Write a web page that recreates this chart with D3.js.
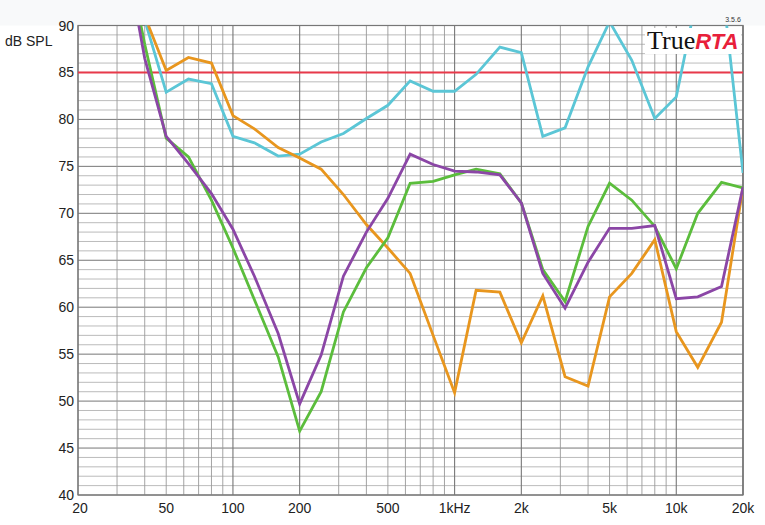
<!DOCTYPE html>
<html><head><meta charset="utf-8">
<script src="https://cdn.jsdelivr.net/npm/d3@7"></script>
<style>body{margin:0;background:#fff}text{font-family:"Liberation Sans",Arial,sans-serif}</style>
</head><body><svg id="c" width="765" height="525"></svg>
<script>
const freqs = [31.5,40,50,63,80,100,125,160,200,250,315,400,500,630,800,1000,1250,1600,2000,2500,3150,4000,5000,6300,8000,10000,12500,16000,20000];
const orange = [100,91,85.2,86.6,86.0,80.4,79.0,77.0,75.9,74.7,72.0,68.8,66.3,63.6,57.0,50.9,61.8,61.6,56.2,61.2,52.6,51.6,61.1,63.6,67.2,57.4,53.6,58.4,72.8];
const cyan   = [100,90.6,82.9,84.3,83.8,78.2,77.5,76.1,76.3,77.6,78.5,80.1,81.5,84.1,83.0,83.0,84.8,87.7,87.1,78.2,79.1,85.6,90.4,86.3,80.1,82.4,93.5,95,74.3];
const green  = [100,88,78.0,76.0,71.4,66.3,60.8,54.7,46.8,51.0,59.5,64.2,67.4,73.2,73.4,74.1,74.7,74.2,71.1,64.0,60.6,68.6,73.2,71.4,68.6,64.1,70.0,73.3,72.7];
const purple = [100,86.5,78.2,75.3,72.1,68.3,63.3,57.2,49.7,54.9,63.3,68.0,71.6,76.3,75.2,74.5,74.4,74.1,71.1,63.6,59.9,64.8,68.4,68.4,68.7,60.9,61.1,62.2,72.8];
const xTicks = [20,50,100,200,500,1000,2000,5000,10000,20000];
const xLabels = ["20","50","100","200","500","1kHz","2k","5k","10k","20k"];
const yTicks = [40,45,50,55,60,65,70,75,80,85,90];
const refLevel = 85;

const svg = d3.select("#c");
const L=78, R=743, T=25.5, B=495;
const x = d3.scaleLog().domain([20,20000]).range([L,R]);
const y = d3.scaleLinear().domain([40,90]).range([B,T]);

svg.append("rect").attr("width",765).attr("height",T).attr("fill","#f8f9fa");

// grid
const g = svg.append("g");
d3.range(40,91).forEach(v=>{
  g.append("line").attr("x1",L).attr("x2",R).attr("y1",y(v)).attr("y2",y(v))
   .attr("stroke", v%5==0 ? "#777" : "#aaa").attr("stroke-width", v%5==0?1:0.8);
});
const vlines=[];
[10,100,1000,10000].forEach(d=>{for(let k=1;k<10;k++){const f=d*k; if(f>=20&&f<=20000) vlines.push(f);}});
vlines.push(20000);
vlines.forEach(f=>{
  const major = [20,100,200,1000,2000,10000,20000].includes(f);
  g.append("line").attr("x1",x(f)).attr("x2",x(f)).attr("y1",T).attr("y2",B)
   .attr("stroke", major ? "#777" : "#999").attr("stroke-width", major?1.1:0.9);
});
g.append("rect").attr("x",L).attr("y",T).attr("width",R-L).attr("height",B-T)
 .attr("fill","none").attr("stroke","#777").attr("stroke-width",1.2);

// reference line
svg.append("line").attr("x1",L).attr("x2",R).attr("y1",y(refLevel)).attr("y2",y(refLevel))
 .attr("stroke","#e8394a").attr("stroke-width",2);

// axes labels
svg.append("g").selectAll("text").data(yTicks).join("text")
 .attr("x",L-4).attr("y",d=>y(d)+5).attr("text-anchor","end").attr("font-size",14).attr("fill","#222").text(d=>d);
svg.append("g").selectAll("text").data(xTicks).join("text")
 .attr("x",(d,i)=>x(d)+(i==0?2:0)).attr("y",B+18).attr("text-anchor","middle").attr("font-size",14).attr("fill","#222").text((d,i)=>xLabels[i]);
svg.append("text").attr("x",5).attr("y",46).attr("font-size",14).attr("fill","#222").text("dB SPL");

// curves
svg.append("clipPath").attr("id","clip").append("rect").attr("x",L).attr("y",T).attr("width",R-L).attr("height",B-T);
const line = d3.line().x((d,i)=>x(freqs[i])).y(d=>y(d));
[[cyan,"#5bc6d6"],[orange,"#e8961e"],[green,"#5bbd3c"],[purple,"#8b46a6"]].forEach(([s,c])=>{
  svg.append("path").datum(s).attr("d",line).attr("clip-path","url(#clip)")
   .attr("fill","none").attr("stroke",c).attr("stroke-width",2.8).attr("stroke-linejoin","miter");
});

// logo
svg.append("rect").attr("x",645).attr("y",28).attr("width",96).attr("height",26).attr("fill","#fff");
const logo = svg.append("text").attr("x",647).attr("y",49);
logo.append("tspan").attr("font-family","Liberation Serif").attr("font-size",26).attr("fill","#111").text("True");
logo.append("tspan").attr("font-family","Liberation Sans").attr("font-weight","bold").attr("font-style","italic").attr("font-size",22).attr("fill","#e8203a").text("RTA");
svg.append("text").attr("x",733).attr("y",22).attr("text-anchor","middle").attr("font-family","Liberation Serif").attr("font-size",7).attr("fill","#333").text("3.5.6");
</script></body></html>
